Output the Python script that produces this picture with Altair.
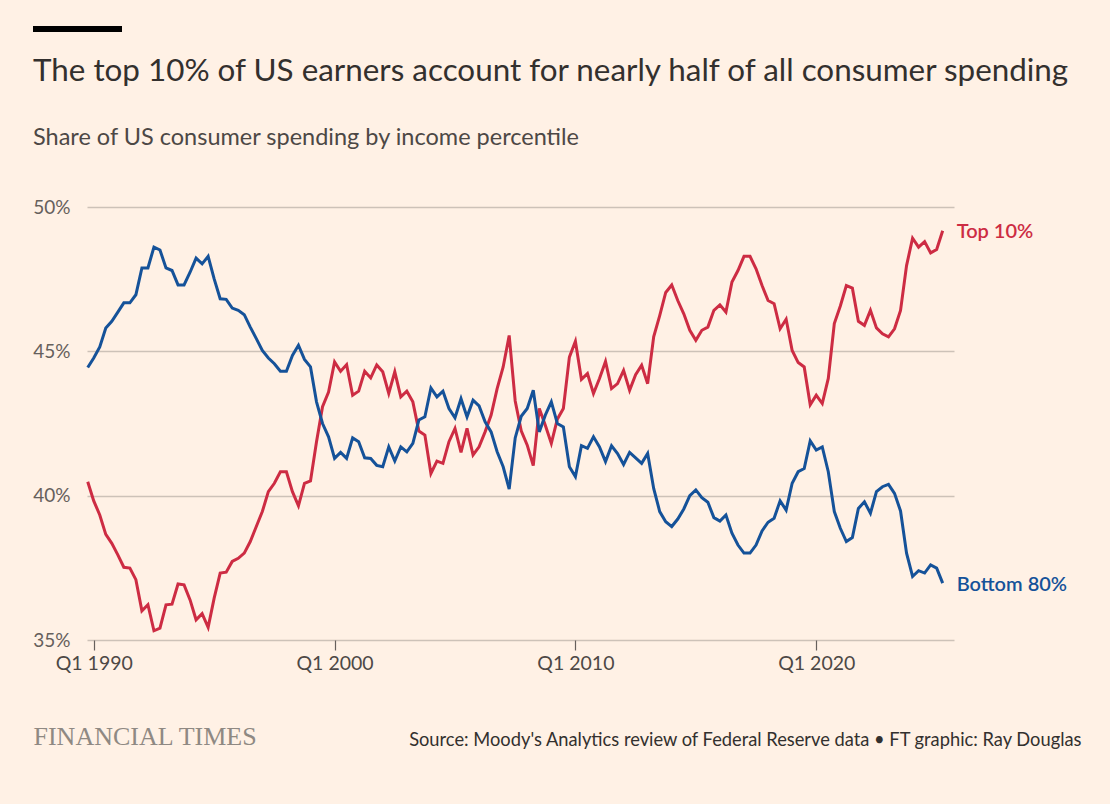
import altair as alt
import pandas as pd

# Quarterly series, first point = Q4 1989, last = Q2 2025
first_year = 1989
first_quarter = 4

top10 = [
    40.48, 39.82, 39.33, 38.66, 38.35, 37.95, 37.52, 37.49, 37.09, 36.01, 36.22, 35.32, 35.41, 36.22, 36.24, 36.94, 36.91, 36.39, 35.70, 35.91, 35.44, 36.45, 37.32, 37.35, 37.72,
    37.83, 38.01, 38.41, 38.93, 39.45, 40.14, 40.43, 40.83, 40.83, 40.14, 39.65, 40.43, 40.51, 41.87, 43.08, 43.59, 44.63, 44.31, 44.54, 43.48, 43.62, 44.31, 44.08, 44.53,
    44.29, 43.54, 44.29, 43.42, 43.62, 43.25, 42.24, 42.10, 40.77, 41.20, 41.12, 41.87, 42.33, 41.50, 42.33, 41.41, 41.69, 42.21, 42.79, 43.71, 44.46, 45.55, 43.28, 42.25,
    41.75, 41.04, 43.02, 42.44, 41.81, 42.65, 43.02, 44.80, 45.35, 44.03, 44.23, 43.54, 44.06, 44.65, 43.71, 43.88, 44.34, 43.65, 44.19, 44.52, 43.88, 45.50, 46.24, 47.04,
    47.30, 46.76, 46.30, 45.73, 45.38, 45.73, 45.84, 46.42, 46.61, 46.36, 47.40, 47.80, 48.29, 48.29, 47.86, 47.28, 46.76, 46.65, 45.78, 46.11, 45.03, 44.61, 44.46, 43.15,
    43.48, 43.19, 44.06, 45.96, 46.57, 47.28, 47.19, 46.04, 45.90, 46.42, 45.81, 45.61, 45.50, 45.78, 46.42, 47.97, 48.92, 48.61, 48.80, 48.41, 48.53, 49.18,
]

bottom80 = [
    44.44, 44.77, 45.15, 45.81, 46.04, 46.36, 46.68, 46.68, 46.96, 47.89, 47.89, 48.61, 48.51, 47.89, 47.80, 47.30, 47.30, 47.74, 48.23, 48.03, 48.29, 47.51, 46.82, 46.80, 46.50,
    46.42, 46.27, 45.84, 45.44, 45.03, 44.77, 44.57, 44.31, 44.31, 44.86, 45.21, 44.72, 44.46, 43.25, 42.50, 42.04, 41.29, 41.50, 41.29, 42.00, 41.87, 41.31, 41.29, 41.05,
    41.00, 41.69, 41.20, 41.69, 41.52, 41.81, 42.62, 42.73, 43.73, 43.42, 43.62, 43.02, 42.70, 43.36, 42.73, 43.31, 43.11, 42.56, 42.21, 41.52, 41.00, 40.23, 42.00, 42.75,
    43.02, 43.65, 42.21, 42.79, 43.25, 42.50, 42.38, 41.00, 40.66, 41.73, 41.64, 42.04, 41.69, 41.18, 41.73, 41.46, 41.08, 41.50, 41.31, 41.12, 41.46, 40.25, 39.45, 39.10,
    38.93, 39.19, 39.54, 40.00, 40.20, 39.93, 39.77, 39.24, 39.12, 39.33, 38.70, 38.29, 38.01, 38.01, 38.29, 38.78, 39.08, 39.22, 39.82, 39.50, 40.43, 40.83, 40.94, 41.90,
    41.58, 41.69, 40.83, 39.45, 38.87, 38.41, 38.55, 39.56, 39.79, 39.39, 40.14, 40.31, 40.39, 40.08, 39.47, 38.01, 37.20, 37.40, 37.32, 37.60, 37.49, 36.97,
]

series_names = ["Top 10%", "Bottom 80%"]
series_colors = ["#cd2c43", "#155299"]
y_ticks = [35, 40, 45, 50]
x_ticks = [1990, 2000, 2010, 2020]

title_text = "The top 10% of US earners account for nearly half of all consumer spending"
subtitle_text = "Share of US consumer spending by income percentile"
source_text = "Source: Moody's Analytics review of Federal Reserve data \u2022 FT graphic: Ray Douglas"
brand_text = "FINANCIAL TIMES"

# quarter positions (decimal years, quarter start)
quarters = []
yr, q = first_year, first_quarter
for _ in range(len(top10)):
    quarters.append(yr + (q - 1) / 4)
    q += 1
    if q > 4:
        q = 1
        yr += 1

rows = []
for name, vals in zip(series_names, [top10, bottom80]):
    for t, v in zip(quarters, vals):
        rows.append({"t": t, "value": v, "series": name})
df = pd.DataFrame(rows)

ends = pd.DataFrame({
    "t": [quarters[-1], quarters[-1]],
    "value": [top10[-1], bottom80[-1]],
    "series": series_names,
})

FONT = "Lato"
INK = "#33302e"
GRID = "#cdc2b8"

color_scale = alt.Scale(domain=series_names, range=series_colors)
x_scale = alt.Scale(domain=[1989.72, 2025.72], nice=False, zero=False)
y_scale = alt.Scale(domain=[35, 50], nice=False, zero=False)

x_axis = alt.Axis(
    values=x_ticks,
    labelExpr="'Q1 ' + datum.value",
    grid=False,
    domain=False,
    ticks=True,
    tickSize=10,
    tickColor="#66605c",
    tickWidth=1.2,
    labelFont=FONT,
    labelFontSize=19.5,
    labelColor="#4d4845",
    labelPadding=4,
    title=source_text,
    titleFont=FONT,
    titleFontSize=18.3,
    titleFontWeight="normal",
    titleColor=INK,
    titleAlign="right",
    titleBaseline="alphabetic",
    titleX=994,
    titleY=105,
    titleAngle=0,
)

y_axis = alt.Axis(
    values=y_ticks,
    labelExpr="datum.value + '%'",
    grid=True,
    gridColor=GRID,
    gridWidth=1.4,
    domain=False,
    ticks=False,
    labelFont=FONT,
    labelFontSize=19,
    labelColor="#66605c",
    labelPadding=17,
    labelAlign="right",
    labelBaseline="middle",
    title=brand_text,
    titleFont="Liberation Serif",
    titleFontSize=26,
    titleFontWeight="normal",
    titleColor="#8f8983",
    titleAngle=0,
    titleAlign="left",
    titleBaseline="alphabetic",
    titleX=-54,
    titleY=537,
)

lines = alt.Chart(df).mark_line(strokeWidth=3).encode(
    x=alt.X("t:Q", scale=x_scale, axis=x_axis),
    y=alt.Y("value:Q", scale=y_scale, axis=y_axis),
    color=alt.Color("series:N", scale=color_scale, legend=None),
    detail="series:N",
)

labels = alt.Chart(ends).mark_text(
    align="left", baseline="middle", dx=14, dy=1.5, font=FONT, fontSize=20, fontWeight=600
).encode(
    x=alt.X("t:Q", scale=x_scale),
    y=alt.Y("value:Q", scale=y_scale),
    text="series:N",
    color=alt.Color("series:N", scale=color_scale, legend=None),
)

bar = alt.Chart(pd.DataFrame({"a": [0]})).mark_rule(color="#000000", strokeWidth=6).encode(
    x=alt.value(-54), x2=alt.value(35), y=alt.value(-178)
)

heading = alt.Chart(pd.DataFrame({"txt": [title_text]})).mark_text(
    align="left", baseline="alphabetic", font=FONT, fontSize=31.4, color=INK
).encode(x=alt.value(-54), y=alt.value(-126), text="txt:N")

subheading = alt.Chart(pd.DataFrame({"txt": [subtitle_text]})).mark_text(
    align="left", baseline="alphabetic", font=FONT, fontSize=23.5, color="#4d4845"
).encode(x=alt.value(-54), y=alt.value(-62), text="txt:N")

chart = alt.layer(lines, labels, bar, heading, subheading).properties(
    width=867,
    height=433,
    autosize=alt.AutoSizeParams(type="none"),
    padding={"left": 87, "top": 207, "right": 156, "bottom": 164},
    background="#fff1e5",
).configure_view(stroke=None)

chart.save("out.html", embed_options={"renderer": "svg", "actions": False})
